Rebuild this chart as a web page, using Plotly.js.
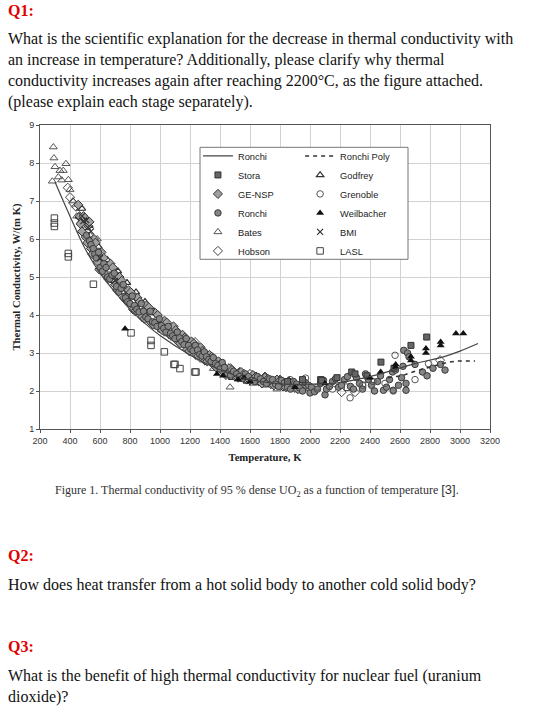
<!DOCTYPE html>
<html><head><meta charset="utf-8">
<script src="https://cdn.plot.ly/plotly-3.0.1.min.js"></script>
<style>
body{margin:0;background:#fff;}
#page{position:relative;width:546px;height:708px;overflow:hidden;font-family:"Liberation Serif","Times New Roman",serif;color:#111;background:#fff;}
#chart{position:absolute;left:0;top:0;width:546px;height:708px;}
.t{position:absolute;left:8px;font-size:16px;line-height:21.1px;white-space:nowrap;z-index:2;}
.q{color:#e00000;font-weight:bold;}
</style></head><body>
<div id="page">
<div id="chart"></div>
<div class="t q" style="top:0px">Q1:</div>
<div class="t" style="top:28px">What is the scientific explanation for the decrease in thermal conductivity with<br>an increase in temperature? Additionally, please clarify why thermal<br>conductivity increases again after reaching 2200°C, as the figure attached.<br>(please explain each stage separately).</div>
<div class="t q" style="top:544.5px">Q2:</div>
<div class="t" style="top:573.5px">How does heat transfer from a hot solid body to another cold solid body?</div>
<div class="t q" style="top:636px">Q3:</div>
<div class="t" style="top:665px">What is the benefit of high thermal conductivity for nuclear fuel (uranium<br>dioxide)?</div>
</div>
<script>
// ---- data (Temperature K, Thermal conductivity W/(m K)) ----
const ronchiLineT = [300, 400, 500, 600, 700, 800, 900, 1000, 1200, 1400, 1600, 1800, 2000, 2200, 2400, 2555, 2700, 2889, 3000, 3120];
const ronchiLineK = [7.5, 6.6, 5.75, 5.1, 4.6, 4.15, 3.78, 3.46, 2.95, 2.56, 2.3, 2.19, 2.18, 2.22, 2.38, 2.55, 2.72, 2.9, 3.05, 3.25];

const ronchiPolyT = [2520, 2620, 2700, 2800, 2911, 2978, 3100];
const ronchiPolyK = [2.35, 2.41, 2.52, 2.63, 2.75, 2.79, 2.79];

const storaT = [1850, 1950, 2071, 2078, 2180, 2278, 2300, 2380, 2473, 2560, 2673, 2778];
const storaK = [2.25, 2.3, 2.3, 2.28, 2.35, 2.5, 2.45, 2.4, 2.76, 2.6, 3.2, 3.42];

const genspT = [455, 465, 470, 480, 490, 505, 515, 520, 530, 540, 550, 560, 570, 585, 595, 610, 625, 640, 655, 670, 685, 700, 715, 730, 745, 760, 775, 790, 805, 820, 835, 850, 865, 880, 895, 910, 925, 940, 955, 970, 985, 1000, 1015, 1030, 1045, 1060, 1075, 1090, 1105, 1120, 1135, 1150, 1165, 1180, 1195, 1210, 1225, 1240, 1255, 1270, 1285, 1300, 1315, 1330, 1345, 1360, 1375, 1390, 1405, 1420, 1440, 1460, 1480, 1500, 1520, 1540, 1560, 1580, 1600, 1620, 1640, 1660, 1680, 1700, 1720, 1740, 1760, 1780, 1800, 1820, 1840, 1860, 1880, 1900, 1920, 1950, 1975, 2000];
const genspK = [6.9, 6.6, 6.4, 6.2, 6.6, 6.05, 5.9, 6.35, 6.45, 5.75, 5.6, 6.0, 5.9, 5.4, 5.2, 5.65, 5.5, 5.05, 4.95, 5.35, 5.25, 4.8, 4.65, 5.0, 4.9, 4.45, 4.4, 4.65, 4.6, 4.15, 4.1, 4.45, 4.35, 3.95, 3.9, 4.25, 4.2, 3.8, 3.75, 4.05, 4.0, 3.65, 3.6, 3.85, 3.8, 3.5, 3.45, 3.7, 3.6, 3.3, 3.25, 3.48, 3.4, 3.1, 3.05, 3.3, 3.25, 2.95, 2.92, 3.15, 3.05, 2.8, 2.78, 2.95, 2.9, 2.68, 2.62, 2.78, 2.72, 2.52, 2.42, 2.6, 2.55, 2.38, 2.35, 2.5, 2.45, 2.3, 2.28, 2.42, 2.38, 2.25, 2.2, 2.35, 2.32, 2.18, 2.15, 2.3, 2.27, 2.12, 2.1, 2.25, 2.2, 2.08, 2.05, 2.2, 2.15, 2.05];

const ronchiPtsT = [510, 530, 540, 555, 565, 575, 590, 600, 615, 625, 640, 650, 665, 680, 695, 710, 725, 740, 755, 770, 785, 800, 815, 830, 845, 860, 875, 890, 905, 920, 935, 950, 965, 980, 995, 1010, 1025, 1040, 1055, 1070, 1085, 1100, 1115, 1130, 1145, 1160, 1175, 1190, 1205, 1220, 1235, 1250, 1265, 1280, 1295, 1310, 1325, 1340, 1355, 1370, 1385, 1400, 1415, 1430, 1450, 1470, 1490, 1510, 1530, 1550, 1570, 1590, 1610, 1630, 1650, 1670, 1690, 1710, 1730, 1750, 1770, 1790, 1810, 1830, 1850, 1870, 1890, 1910, 1930, 1950, 1970, 1990, 2000, 2010, 2030, 2050, 2070, 2090, 2100, 2110, 2130, 2150, 2170, 2190, 2210, 2230, 2250, 2270, 2290, 2310, 2330, 2350, 2370, 2390, 2410, 2430, 2450, 2470, 2490, 2510, 2530, 2550, 2555, 2570, 2590, 2610, 2620, 2625, 2640, 2640, 2650, 2660, 2700, 2750, 2780, 2820, 2870, 2900];
const ronchiPtsK = [6.1, 5.95, 5.85, 5.75, 5.6, 5.5, 5.65, 5.25, 5.15, 5.35, 5.25, 5.0, 4.95, 5.05, 5.1, 4.75, 4.6, 4.7, 4.8, 4.45, 4.35, 4.3, 4.5, 4.25, 4.15, 4.08, 4.3, 4.1, 3.95, 3.9, 4.1, 3.82, 3.8, 3.7, 3.9, 3.72, 3.65, 3.55, 3.7, 3.52, 3.45, 3.38, 3.55, 3.4, 3.3, 3.22, 3.38, 3.2, 3.1, 3.06, 3.2, 3.08, 2.96, 2.92, 3.03, 2.9, 2.83, 2.78, 2.88, 2.72, 2.67, 2.58, 2.75, 2.62, 2.45, 2.42, 2.52, 2.45, 2.38, 2.33, 2.45, 2.38, 2.28, 2.25, 2.38, 2.32, 2.25, 2.2, 2.32, 2.3, 2.18, 2.12, 2.28, 2.22, 2.1, 2.05, 2.25, 2.18, 2.08, 2.0, 2.22, 2.15, 1.95, 2.1, 1.98, 2.05, 2.2, 2.28, 1.9, 2.05, 2.12, 2.25, 2.32, 2.1, 2.15, 2.3, 2.38, 2.12, 2.05, 2.35, 2.2, 2.05, 2.45, 2.3, 2.15, 2.0, 2.25, 2.4, 2.02, 2.1, 2.3, 2.5, 2.02, 2.55, 2.15, 2.35, 2.65, 3.07, 2.2, 2.02, 3.0, 2.9, 2.7, 2.5, 2.4, 2.6, 2.7, 2.55];

const batesT = [282, 289, 293, 300, 322, 333, 345, 355, 373, 389, 400, 420, 445, 467, 480, 495, 510, 533, 550, 582, 600, 620, 667, 690, 720, 762, 790, 811, 850, 889, 920, 967, 1010, 1050, 1089, 1150, 1200, 1260, 1289, 1356, 1420, 1467, 1550, 1620, 1700, 1780];
const batesK = [7.52, 8.42, 8.13, 7.9, 7.63, 7.8, 7.55, 7.8, 7.98, 7.56, 7.3, 7.0, 6.6, 6.8, 6.5, 6.4, 6.3, 6.1, 5.8, 6.0, 5.6, 5.4, 5.18, 5.0, 4.85, 4.74, 4.6, 4.47, 4.3, 4.26, 4.1, 3.73, 3.6, 3.5, 3.47, 3.25, 3.1, 2.9, 2.81, 2.59, 2.55, 2.1, 2.3, 2.2, 2.15, 2.05];

const hobsonT = [385, 400, 420, 440, 470, 500, 545, 580, 620, 660, 700, 760, 820, 880, 940, 1000, 1060, 1120, 1180, 1233, 1290, 1350, 1410, 1470, 1530, 1600, 1700, 1800, 2211, 2300, 2867];
const hobsonK = [7.35, 7.1, 6.95, 6.85, 6.55, 6.35, 5.95, 5.7, 5.45, 5.15, 5.0, 4.65, 4.3, 4.15, 3.95, 3.78, 3.6, 3.45, 3.3, 3.29, 2.95, 2.85, 2.7, 2.6, 2.5, 2.45, 2.38, 2.3, 1.97, 1.97, 2.81];

const godfreyT = [460, 480, 500, 530, 560, 590, 620, 650, 690, 720, 750, 780, 810, 840, 870, 900, 930, 960, 990, 1030, 1070, 1110, 1150, 1190, 1230, 1270, 1310, 1350, 1390, 1430, 1480, 1530, 1580, 1630, 1680];
const godfreyK = [6.6, 6.8, 6.5, 6.35, 5.7, 5.8, 5.45, 5.45, 4.9, 5.15, 4.6, 4.85, 4.5, 4.6, 4.2, 4.35, 4.05, 4.1, 3.85, 3.8, 3.62, 3.52, 3.38, 3.3, 3.1, 3.05, 2.85, 2.88, 2.62, 2.58, 2.35, 2.5, 2.25, 2.4, 2.2];

const grenobleT = [1867, 1970, 2050, 2150, 2267, 2350, 2420, 2500, 2555, 2567, 2700, 2790];
const grenobleK = [2.3, 2.34, 2.1, 2.05, 1.82, 2.15, 2.25, 2.2, 2.0, 2.94, 2.3, 2.72];

const weilbacherT = [767, 1380, 1420, 1520, 1560, 1600, 1900, 2100, 2400, 2471, 2571, 2571, 2673, 2673, 2773, 2773, 2871, 2871, 2973, 3022];
const weilbacherK = [3.64, 2.45, 2.4, 2.3, 2.35, 2.25, 2.1, 2.2, 2.35, 2.5, 2.7, 2.63, 2.9, 2.8, 3.12, 3.0, 3.29, 3.2, 3.51, 3.51];

const bmiT = [480, 489, 507, 520, 540, 600, 700];
const bmiK = [6.6, 6.47, 6.5, 6.3, 6.2, 5.5, 4.9];

const laslT = [296, 296, 296, 389, 389, 556, 807, 940, 940, 1029, 1093, 1100, 1133, 1233, 1240, 1933, 2250, 2350];
const laslK = [6.55, 6.42, 6.33, 5.62, 5.53, 4.81, 3.53, 3.33, 3.2, 3.03, 2.7, 2.7, 2.59, 2.5, 2.5, 2.04, 2.1, 2.15];

const xTicks = [200, 400, 600, 800, 1000, 1200, 1400, 1600, 1800, 2000, 2200, 2400, 2600, 2800, 3000, 3200];
const yTicks = [1, 2, 3, 4, 5, 6, 7, 8, 9];

// ---- traces ----
function pts(name, x, y, marker, leg, rank) {
  return {type:'scatter', mode:'markers', name:name, x:x, y:y, marker:marker, legend:leg, legendrank:rank, hoverinfo:'skip'};
}
const traces = [
  pts('Bates', batesT, batesK, {symbol:'triangle-up-open', size:7, color:'#555', line:{width:1}}, 'legend', 5),
  pts('LASL', laslT, laslK, {symbol:'square-open', size:6.5, color:'#444', line:{width:1}}, 'legend2', 12),
  pts('Hobson', hobsonT, hobsonK, {symbol:'diamond-open', size:7, color:'#444', line:{width:1}}, 'legend', 6),
  pts('Godfrey', godfreyT, godfreyK, {symbol:'triangle-up', size:6.5, color:'#fff', line:{width:1.2, color:'#333'}}, 'legend2', 8),
  pts('GE-NSP', genspT, genspK, {symbol:'diamond', size:7, color:'#a0a0a0', line:{width:1, color:'#333'}}, 'legend', 3),
  pts('Ronchi', ronchiPtsT, ronchiPtsK, {symbol:'circle', size:6.5, color:'#858585', line:{width:1, color:'#3a3a3a'}}, 'legend', 4),
  pts('Grenoble', grenobleT, grenobleK, {symbol:'circle-open', size:6.5, color:'#555', line:{width:1}}, 'legend2', 9),
  pts('Stora', storaT, storaK, {symbol:'square', size:6, color:'#666', line:{width:1, color:'#333'}}, 'legend', 2),
  pts('BMI', bmiT, bmiK, {symbol:'x-thin-open', size:6, color:'#333', line:{width:1.2}}, 'legend2', 11),
  pts('Weilbacher', weilbacherT, weilbacherK, {symbol:'triangle-up', size:7, color:'#111', line:{width:0}}, 'legend2', 10),
  {type:'scatter', mode:'lines', name:'Ronchi', x:ronchiLineT, y:ronchiLineK, line:{color:'#444', width:1.2, shape:'spline'}, legend:'legend', legendrank:1, hoverinfo:'skip'},
  {type:'scatter', mode:'lines', name:'Ronchi Poly', x:ronchiPolyT, y:ronchiPolyK, line:{color:'#333', width:1.5, dash:'4px,4px'}, legend:'legend2', legendrank:7, hoverinfo:'skip'}
];

const tickFont = {family:'Liberation Sans, Arial, sans-serif', size:9, color:'#333'};
const titleFont = {family:'Liberation Serif, Times New Roman, serif', size:10.7, color:'#222', weight:'bold'};
const legFont = {family:'Liberation Sans, Arial, sans-serif', size:9.3, color:'#222'};

const layout = {
  width:546, height:708,
  margin:{l:40, r:56, t:125, b:279, pad:0},
  paper_bgcolor:'#fff', plot_bgcolor:'#fff',
  showlegend:true,
  xaxis:{range:[200,3200], tickmode:'array', tickvals:xTicks, ticktext:xTicks.map(String),
    showgrid:true, gridcolor:'#d2d2d2', gridwidth:1, showline:true, linecolor:'#555', linewidth:1, mirror:true,
    ticks:'outside', ticklen:3, tickcolor:'#555', zeroline:false, tickfont:tickFont,
    title:{text:'Temperature, K', font:titleFont, standoff:8}},
  yaxis:{range:[1,9], tickmode:'array', tickvals:yTicks, ticktext:yTicks.map(String),
    showgrid:true, gridcolor:'#d2d2d2', gridwidth:1, showline:true, linecolor:'#555', linewidth:1, mirror:true,
    ticks:'outside', ticklen:3, tickcolor:'#555', zeroline:false, tickfont:tickFont,
    title:{text:'Thermal Conductivity, W/(m K)', font:titleFont, standoff:6}},
  legend:{x:0.351, y:0.946, xanchor:'left', yanchor:'top', bgcolor:'rgba(0,0,0,0)', borderwidth:0, font:legFont, tracegroupgap:0, itemwidth:30, traceorder:'normal'},
  legend2:{x:0.578, y:0.946, xanchor:'left', yanchor:'top', bgcolor:'rgba(0,0,0,0)', borderwidth:0, font:legFont, tracegroupgap:0, itemwidth:30, traceorder:'normal'},
  shapes:[{type:'rect', xref:'paper', yref:'paper', x0:0.3556, x1:0.8178, y0:0.5582, y1:0.9266, line:{color:'#777', width:1}, fillcolor:'#fff', layer:'above'}],
  annotations:[{xref:'paper', yref:'paper', x:0.028, y:-0.2007, xanchor:'left', yanchor:'middle', showarrow:false,
    text:'Figure 1. Thermal conductivity of 95 % dense UO<sub>2</sub> as a function of temperature <span style="font-family:Arial, Liberation Sans, sans-serif; font-size:13px">[3]</span>.',
    font:{family:'Liberation Serif, Times New Roman, serif', size:12, color:'#333'}}]
};

Plotly.newPlot('chart', traces, layout, {staticPlot:true, displayModeBar:false});
</script>
</body></html>
